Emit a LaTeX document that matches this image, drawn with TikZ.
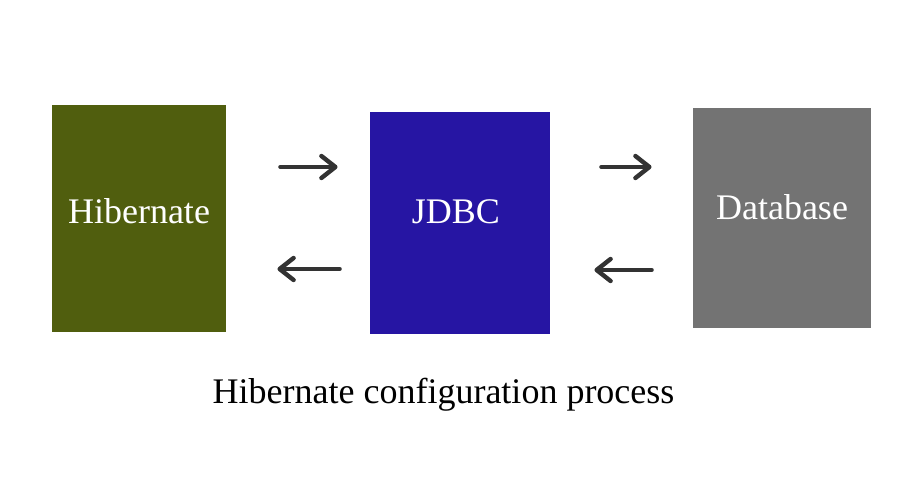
\documentclass[tikz,border=0pt]{standalone}
\usepackage{fontspec}
\setmainfont{Liberation Serif}
\usetikzlibrary{positioning,arrows.meta}
\definecolor{hibgreen}{RGB}{80,94,14}
\definecolor{jdbcblue}{RGB}{38,21,163}
\definecolor{dbgray}{RGB}{115,115,115}
\definecolor{arrowgray}{RGB}{51,51,51}
\begin{document}
\begin{tikzpicture}[x=0.5pt,y=0.5pt,
	box/.style={rectangle, inner sep=0pt},
	flow/.style={line width=2.2pt, line cap=round, draw=arrowgray, -{Straight Barb[length=7pt,width=11pt,line width=2.2pt,round]}}]
	\useasboundingbox (0,0) rectangle (900,480);
	\node (hib) [box, fill=hibgreen, minimum width=87pt, minimum height=113.5pt,
		label={[text=white, font=\fontsize{18}{22}\selectfont, yshift=3.5pt]center:Hibernate}] at (139,261.5) {};
	\node (jdbc) [box, fill=jdbcblue, minimum width=90pt, minimum height=111pt,
		label={[text=white, font=\fontsize{18}{22}\selectfont, xshift=-2pt, yshift=5.5pt]center:JDBC}] at (460,257) {};
	\node (db) [box, fill=dbgray, minimum width=89pt, minimum height=110pt,
		label={[text=white, font=\fontsize{18}{22}\selectfont, yshift=5.5pt]center:Database}] at (782,262) {};
	\node (cap) [font=\fontsize{18}{22}\selectfont] at (443.5,85) {Hibernate configuration process};

	\draw [flow] ([shift={(54,51.5)}]hib.east) -- ([shift={(-32,56)}]jdbc.west);
	\draw [flow] ([shift={(-30,-46)}]jdbc.west) -- ([shift={(51,-50.5)}]hib.east);
	\draw [flow] ([shift={(51,56)}]jdbc.east) -- ([shift={(-41,51)}]db.west);
	\draw [flow] ([shift={(-41,-52)}]db.west) -- ([shift={(44,-47)}]jdbc.east);
\end{tikzpicture}
\end{document}
